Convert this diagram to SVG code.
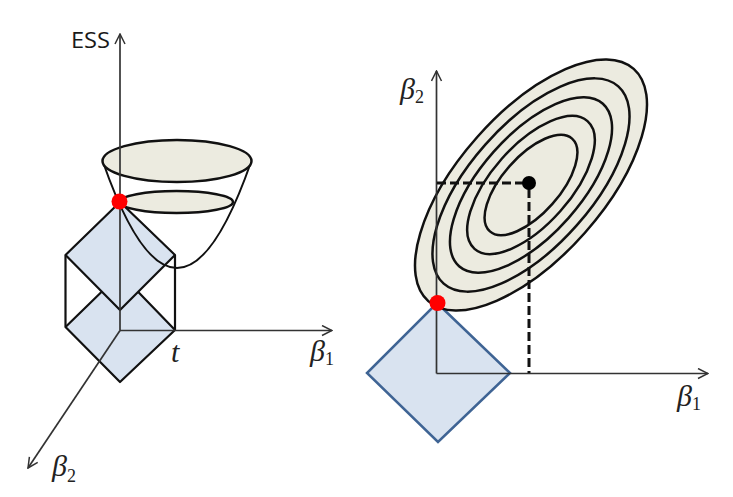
<svg xmlns="http://www.w3.org/2000/svg" width="733" height="497" viewBox="0 0 733 497">
  <style>
    .axis { stroke: #333333; stroke-width: 1.7; fill: none; }
    .edge { stroke: #111; stroke-width: 2.2; fill: none; stroke-linejoin: round; }
    .blue { fill: #d9e3f0; stroke: none; }
    .ring { fill: none; stroke: #111; stroke-width: 2.5; }
    .ring.beige { fill: #ecebe0; }
    .dash { stroke: #111; stroke-width: 3; stroke-dasharray: 9 4; fill: none; }
    .greek { font-family: "Liberation Serif", "DejaVu Serif", serif; font-style: italic; font-size: 30px; fill: #222; }
    .sub { font-family: "Liberation Serif", "DejaVu Serif", serif; font-style: normal; font-size: 18px; fill: #222; }
    .sans { font-family: "Open Sans", "Liberation Sans", Arial, sans-serif; fill: #1a1a1a; }
  </style>
  <defs>
    <marker id="arr" viewBox="0 0 12 12" refX="11" refY="6" markerWidth="12" markerHeight="12" markerUnits="userSpaceOnUse" orient="auto">
      <path d="M1,1 L11,6 L1,11" fill="none" stroke="#333333" stroke-width="1.5"/>
    </marker>
  </defs>
  <rect width="733" height="497" fill="#ffffff"/>

  <!-- LEFT PANEL -->
  <g id="cube">
    <polygon class="blue" points="65.5,327 120,274 175,330 120,382"/>
    <polygon class="blue" points="120,202 65.5,255 120,310 175,255"/>
    <path class="edge" d="M120,202 L65.5,255 L65.5,327 L120,382 L175,330 L175,255 Z"/>
    <path class="edge" d="M65.5,255 L120,310 L175,255"/>
    <path class="edge" d="M65.5,327 L101.7,291.7 M175,330 L138,291.7"/>
  </g>
  <g id="bowl">
    <path d="M103,162 Q177,374 251,162" fill="none" stroke="#111" stroke-width="2"/>
    <ellipse class="ring beige" cx="177" cy="161" rx="74.5" ry="21"/>
    <ellipse class="ring beige" cx="176.5" cy="202" rx="56.5" ry="11"/>
  </g>
  <g id="left-axes">
    <line class="axis" x1="120" y1="330.5" x2="120" y2="34" marker-end="url(#arr)"/>
    <line class="axis" x1="120" y1="330.5" x2="332" y2="330.5" marker-end="url(#arr)"/>
    <line class="axis" x1="120" y1="330.5" x2="28" y2="468" marker-end="url(#arr)"/>
  </g>
  <g id="left-dot">
    <circle cx="119.5" cy="201.5" r="8" fill="#ff0000"/>
  </g>
  <g id="left-labels">
    <text class="sans" x="71" y="48" font-size="21" textLength="39" lengthAdjust="spacingAndGlyphs">ESS</text>
    <text class="greek" x="171" y="362" font-size="28">t</text>
    <text x="310" y="361"><tspan class="greek">β</tspan><tspan class="sub" dy="4">1</tspan></text>
    <text x="52" y="476"><tspan class="greek">β</tspan><tspan class="sub" dy="6">2</tspan></text>
  </g>

  <!-- RIGHT PANEL -->
  <g id="diamond">
    <polygon points="437,303 510,373 438,442 367,373" fill="#d9e3f0" stroke="#3f6494" stroke-width="2.5" stroke-linejoin="miter"/>
  </g>
  <g id="contours" transform="translate(531,185) rotate(-48.5)">
    <ellipse class="ring beige" cx="0" cy="0" rx="155" ry="72"/>
    <ellipse class="ring" cx="0" cy="0" rx="131.75" ry="61"/>
    <ellipse class="ring" cx="0" cy="0" rx="108.5" ry="50"/>
    <ellipse class="ring" cx="0" cy="0" rx="85.25" ry="39.3"/>
    <ellipse class="ring" cx="0" cy="0" rx="62" ry="28.6"/>
  </g>
  <g id="right-axes">
    <line class="axis" x1="436.5" y1="373.5" x2="436.5" y2="71" marker-end="url(#arr)"/>
    <line class="axis" x1="436.5" y1="373.5" x2="708" y2="373.5" marker-end="url(#arr)"/>
  </g>
  <g id="projections">
    <path class="dash" d="M437,183 L529,183"/>
    <path class="dash" d="M529,189 L529,373"/>
  </g>
  <g id="right-dots">
    <circle cx="529" cy="183" r="7" fill="#000"/>
    <circle cx="437.5" cy="303" r="8" fill="#ff0000"/>
  </g>
  <g id="right-labels">
    <text x="400" y="99"><tspan class="greek">β</tspan><tspan class="sub" dy="4">2</tspan></text>
    <text x="677" y="406"><tspan class="greek">β</tspan><tspan class="sub" dy="4">1</tspan></text>
  </g>
</svg>
